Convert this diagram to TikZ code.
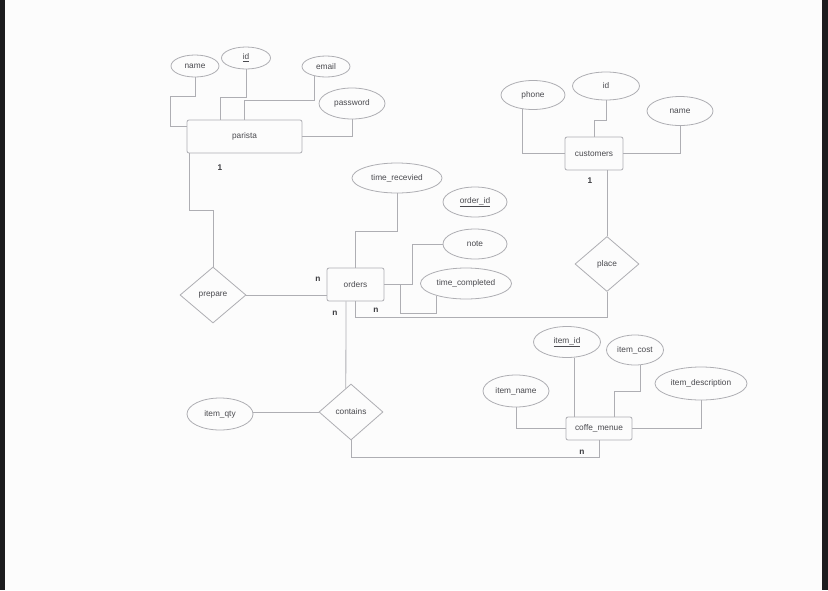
\documentclass[tikz,border=0pt]{standalone}
\usepackage{fontspec}
\setmainfont{Liberation Sans}
\usetikzlibrary{shapes.geometric,calc}
\definecolor{ln}{HTML}{AEAEB3}
\definecolor{tx}{HTML}{4A4A4F}
\definecolor{bg}{HTML}{FCFCFC}
\definecolor{frame}{HTML}{1C1C1E}
\begin{document}
\begin{tikzpicture}[x=1pt,y=-1pt,
  every node/.style={font=\fontsize{8.3}{10}\selectfont, text=tx, inner sep=0pt},
  ent/.style={draw=ln, line width=0.8pt, rounded corners=2pt, rectangle},
  attr/.style={draw=ln, line width=0.8pt, ellipse},
  rel/.style={draw=ln, line width=0.8pt, diamond},
  card/.style={font=\fontsize{8.3}{10}\selectfont\bfseries, text=tx!80!black},
  conn/.style={draw=ln, line width=0.8pt}]
\fill[bg] (0,0) rectangle (828,590);
\useasboundingbox (0,0) rectangle (828,590);
\fill[frame] (0,0) rectangle (5,590);
\fill[frame] (822,0) rectangle (828,590);

% parista
\node[ent, minimum width=115pt, minimum height=33pt] (parista) at (244.5,136.5) {parista};
\node[attr, minimum width=48pt, minimum height=22pt] (pname) at (195,66) {name};
\node[attr, minimum width=49pt, minimum height=22pt] (pid) at (246,58) {\underline{id}};
\node[attr, minimum width=48pt, minimum height=21pt] (pemail) at (326,66.5) {email};
\node[attr, minimum width=66pt, minimum height=31pt] (ppass) at (352,103.5) {password};

\draw[conn] (pname.south) |- (170,96) |- ([yshift=10pt]parista.west);
\draw[conn] (pid.south) |- (220,97) -- ([xshift=-24.5pt]parista.north);
\draw[conn] (pemail.220) |- (244.5,100) -- (parista.north);
\draw[conn] (ppass.south) |- (parista.east);

% prepare
\node[rel, minimum width=66pt, minimum height=56pt] (prepare) at (213,295) {prepare};
\draw[conn] ([xshift=-55pt]parista.south) |- (213,210) -- (prepare.north);
\node[card] (c1) at (220,168) {1};

% orders
\node[ent, minimum width=57pt, minimum height=33pt] (orders) at (355.5,284.5) {orders};
\node[attr, minimum width=90pt, minimum height=30pt] (timerec) at (397,178) {time\_recevied};
\node[attr, minimum width=64pt, minimum height=30pt] (orderid) at (475,202) {\underline{order\_id}};
\node[attr, minimum width=64pt, minimum height=30pt] (note) at (475,244) {note};
\node[attr, minimum width=91pt, minimum height=31pt] (timecomp) at (466,283.5) {time\_completed};

\draw[conn] (prepare.east) -- (prepare.east -| orders.west);
\draw[conn] (timerec.south) |- (355.5,231) -- (orders.north);
\draw[conn] (note.west) -| (412,284.5) -- (orders.east);
\draw[conn] (orders.east) -| (400,313) -| (timecomp.202);
\node[card] (c2) at (318,279) {n};
\node[card] (c3) at (335,313) {n};
\node[card] (c4) at (376,310) {n};

% customers
\node[ent, minimum width=58pt, minimum height=33pt] (customers) at (594,153.5) {customers};
\node[attr, minimum width=64pt, minimum height=29pt] (phone) at (533,95) {phone};
\node[attr, minimum width=67pt, minimum height=28pt] (cid) at (606,86) {id};
\node[attr, minimum width=66pt, minimum height=29pt] (cname) at (680,111) {name};
\draw[conn] (phone.233) |- (customers.west);
\draw[conn] (cid.south) |- (594,120) -- (customers.north);
\draw[conn] (cname.south) |- (customers.east);
\node[card] (c5) at (590,181) {1};

% place
\node[rel, minimum width=64pt, minimum height=55pt] (place) at (607,264) {place};
\draw[conn] (place.north) -- (place.north |- customers.south);
\draw[conn] (orders.south) |- (607,317) -- (place.south);

% contains
\node[rel, minimum width=64pt, minimum height=56pt] (contains) at (351,412) {contains};
\node[attr, minimum width=66pt, minimum height=32pt] (itemqty) at (220,414) {item\_qty};
\draw[conn] ([xshift=-9.5pt]orders.south) -- ($(contains.north)!0.16!(contains.west)$);
\draw[conn] (contains.west -| itemqty.east) -- (contains.west);

% coffe_menue
\node[ent, minimum width=66pt, minimum height=23pt] (coffe) at (599,428.5) {coffe\_menue};
\node[attr, minimum width=66pt, minimum height=32pt] (itemname) at (516,391) {item\_name};
\node[attr, minimum width=67pt, minimum height=31pt] (itemid) at (567,342) {\underline{item\_id}};
\node[attr, minimum width=57pt, minimum height=30pt] (itemcost) at (635,350) {item\_cost};
\node[attr, minimum width=92pt, minimum height=33pt] (itemdesc) at (701,383.5) {item\_description};
\draw[conn] (contains.south) |- (599,457) -- (coffe.south);
\draw[conn] (itemname.south) |- (coffe.west);
\draw[conn] ([xshift=7pt]itemid.south) -- ([xshift=7pt]itemid.south |- coffe.north);
\draw[conn] ([xshift=5pt]itemcost.south) |- (614,391) -- ([xshift=15pt]coffe.north);
\draw[conn] (itemdesc.south) |- (coffe.east);
\node[card] (c6) at (582,452) {n};
\end{tikzpicture}
\end{document}
